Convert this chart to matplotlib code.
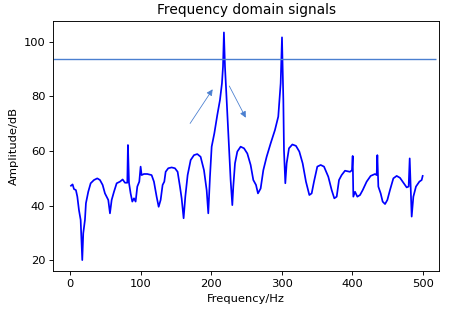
import matplotlib
matplotlib.use('Agg')
import matplotlib.pyplot as plt

freq = [1, 3.3, 5.2, 8, 10, 12.3, 14.7, 17, 18.4, 20.8, 22.2, 25.5, 28.9, 33.6, 38.3,
        42.1, 45.9, 49.2, 51.5, 53.9, 56.3, 58.7, 62, 65.8, 70.5, 74.3, 77.6, 80.9, 81.8,
        83.3, 85.6, 88, 90.4, 92.7, 95.1, 97.9, 99.8, 101.2, 104.5, 109.3, 115.4, 118.7,
        122.5, 125.4, 128.2, 131, 133.4, 135.3, 139, 143.8, 148.5, 152.3, 155.6, 158,
        160.8, 163.2, 166.5, 170.8, 175.5, 180.2, 184.9, 189.7, 193.5, 195.8, 198.2,
        200.6, 204.4, 208.6, 212.4, 215.2, 216.7, 218, 219.5, 221.9, 224.7, 227.5, 229.9,
        231.3, 233.7, 237, 241.7, 246.5, 251.2, 255.9, 259.7, 263.5, 266.3, 270.1, 273.9,
        278.6, 284.3, 290.4, 295.1, 298.5, 300.4, 302.3, 303.2, 305.1, 307, 310.3, 315.1,
        320.2, 325, 329.7, 334.4, 339.2, 342.5, 345.8, 350.5, 355.3, 360, 366.1, 370.9,
        374.6, 378, 381.3, 385, 389.8, 396.9, 399.7, 400.7, 401.6, 404, 407.3, 411.1,
        414.9, 420.5, 426.2, 432.4, 434.7, 435.7, 437.1, 440.4, 443.2, 446.6, 449.9,
        453.6, 458.4, 463.1, 467.8, 472.6, 477.3, 480.1, 481.6, 483, 484.4, 486.8, 490.5,
        495.3, 498.6, 500]
amp = [47.3, 47.8, 46.1, 45.7, 43.3, 38.4, 34.8, 20.1, 29.9, 34.8, 40.9, 45.1, 48.2,
       49.4, 50, 49.4, 47.6, 44.5, 43.3, 42.1, 37.2, 42.1, 45.1, 48.2, 48.8, 49.6, 48.4,
       48.4, 62.2, 48.4, 44.5, 41.5, 42.7, 41.5, 47, 48.8, 54.3, 51.2, 51.6, 51.6, 51.2,
       48.8, 43.3, 39.6, 42.1, 47.6, 48.8, 52.4, 53.7, 54, 53.7, 52.4, 47, 42.7, 35.4,
       43.3, 51.2, 56.7, 58.5, 58.9, 57.9, 53, 45.7, 37.2, 50.6, 61.6, 66.5, 73.2, 78.7,
       84.8, 90.9, 103.4, 90.9, 78.7, 64, 49.4, 40.2, 47, 55.5, 59.8, 61.6, 61, 59.1,
       54.9, 49.4, 47.6, 44.5, 46.3, 53, 57.9, 62.8, 67.7, 72.6, 84.8, 101.6, 78.7, 60.4,
       48.2, 55.5, 61, 62.4, 61.9, 59.8, 55.5, 48.8, 43.9, 44.5, 48.8, 54.3, 54.9, 54.3,
       50.6, 45.7, 42.7, 43.3, 49.4, 51.2, 52.8, 52.4, 53, 58.2, 43.3, 45.1, 43.3, 43.9,
       45.7, 48.8, 50.9, 51.6, 51.2, 58.5, 47, 44.5, 41.5, 40.6, 42.1, 45.7, 50, 50.9,
       50.2, 48.4, 46.7, 47, 57.3, 47, 36, 43.3, 47, 48.8, 49.4, 50.9]

threshold = 93.7
arrow_up = (170, 70.1, 202, 82.6)
arrow_down = (225.6, 83.8, 249, 72.2)
line_color = '#4a7fd0'

dpi = 82.5
fig = plt.figure(figsize=(473 / dpi, 315 / dpi), dpi=dpi)
ax = fig.add_axes([53.3 / 473, 1 - 271 / 315, (439.3 - 53.3) / 473, (271 - 20.7) / 315])

ax.plot(freq, amp, color='blue', linewidth=1.5)
ax.hlines(threshold, -24.1, 519, color=line_color, linewidth=1.2)

for x0, y0, x1, y1 in (arrow_up, arrow_down):
    ax.annotate('', xy=(x1, y1), xytext=(x0, y0),
                arrowprops=dict(arrowstyle='-|>', color=line_color, lw=0.7,
                                mutation_scale=11, shrinkA=0, shrinkB=0))

ax.set_xlim(-24.1, 523.6)
ax.set_ylim(16.1, 107.7)
ax.set_title('Frequency domain signals')
ax.set_xlabel('Frequency/Hz')
ax.set_ylabel('Amplitude/dB')

fig.savefig('out.png', dpi=dpi)
